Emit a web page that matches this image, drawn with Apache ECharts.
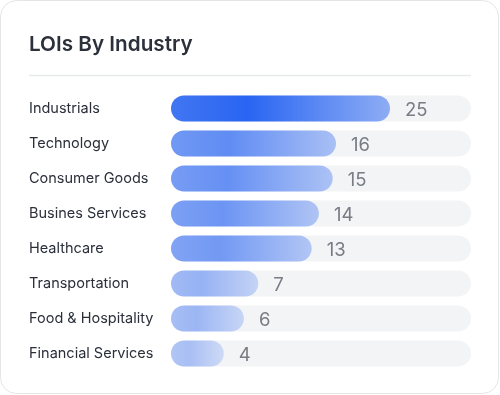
<!DOCTYPE html>
<html>
<head>
<meta charset="utf-8">
<script src="https://cdn.jsdelivr.net/npm/echarts@6/dist/echarts.min.js"></script>
<style>
  html, body { margin: 0; padding: 0; background: #fff; }
  #chart { width: 500px; height: 395px; }
</style>
</head>
<body>
<div id="chart"></div>
<script>
// industries, top to bottom
var industries = ['Industrials', 'Technology', 'Consumer Goods', 'Busines Services',
                  'Healthcare', 'Transportation', 'Food & Hospitality', 'Financial Services'];
// numbers printed next to each bar
var counts = [25, 16, 15, 14, 13, 7, 6, 4];
// how far each bar fills its track (percent)
var barFill = [73, 55, 53.9, 49.3, 46.9, 29.1, 24.3, 17.6];

var maxCount = Math.max.apply(null, counts);

function barColor(i) {
    // bars get paler as the count drops
    var a = 0.25 + 0.75 * counts[i] / maxCount;
    var c = function (k) { return 'rgba(41,101,242,' + (a * k).toFixed(3) + ')'; };
    return new echarts.graphic.LinearGradient(0, 0, 1, 0, [
        { offset: 0, color: c(0.88) },
        { offset: 0.35, color: c(1) },
        { offset: 1, color: c(0.5) }
    ]);
}

var barData = [];
for (var i = 0; i < barFill.length; i++) {
    barData.push({ value: barFill[i], itemStyle: { color: barColor(i) } });
}

var myChart = echarts.init(document.getElementById('chart'));
var option = {
    animation: false,
    textStyle: { fontFamily: 'Inter' },
    graphic: [
        {
            type: 'rect', z: -10, silent: true,
            shape: { x: 0.5, y: 0.5, width: 498, height: 393, r: 16 },
            style: { fill: '#fff', stroke: '#e3e5e8', lineWidth: 1 }
        },
        {
            type: 'text', left: 29, top: 34,
            style: { text: 'LOIs By Industry', fill: '#2b303b', font: '600 20.7px Inter' }
        },
        {
            type: 'line', silent: true,
            shape: { x1: 29, y1: 75.5, x2: 471, y2: 75.5 },
            style: { stroke: '#e8e9ec', lineWidth: 1.5 }
        }
    ],
    grid: { left: 171, right: 29, top: 91, bottom: 24 },
    xAxis: {
        type: 'value', min: 0, max: 100, show: false
    },
    yAxis: {
        type: 'category',
        inverse: true,
        data: industries,
        axisLine: { show: false },
        axisTick: { show: false },
        axisLabel: {
            align: 'left', margin: 142, padding: [2, 0, 0, 0],
            fontSize: 14.5, color: '#2a2f3a', fontFamily: 'Inter'
        }
    },
    series: [{
        type: 'bar',
        data: barData,
        barWidth: 26,
        showBackground: true,
        backgroundStyle: { color: '#f3f4f6', borderRadius: 13 },
        itemStyle: { borderRadius: 13 },
        label: {
            show: true, position: 'right', distance: 15, offset: [0, 2],
            fontSize: 18.5, color: '#787c84', fontFamily: 'Inter',
            formatter: function (p) { return counts[p.dataIndex]; }
        }
    }]
};
myChart.setOption(option);
</script>
</body>
</html>
